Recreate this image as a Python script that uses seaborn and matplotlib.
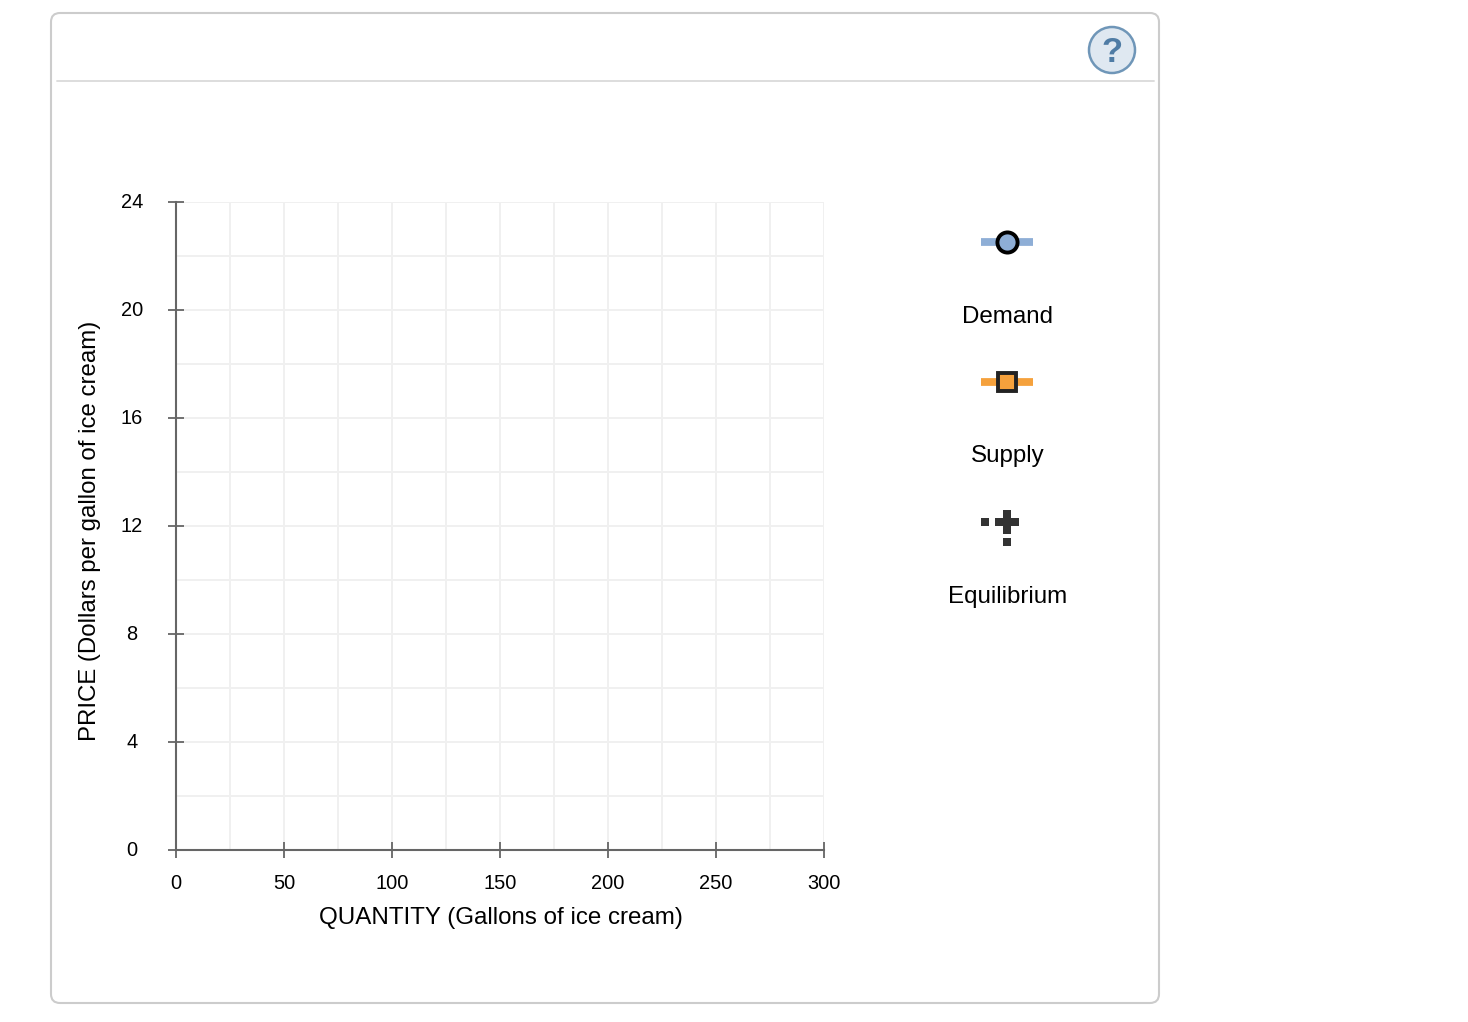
import matplotlib
matplotlib.use("Agg")
import matplotlib.pyplot as plt
from matplotlib.patches import Circle, FancyBboxPatch, Rectangle
import pandas as pd
import seaborn as sns

# Axis setup (the graph itself is empty)
x_ticks = [0, 50, 100, 150, 200, 250, 300]
y_ticks = [0, 4, 8, 12, 16, 20, 24]
x_grid = [25 * i for i in range(13)]
y_grid = [2 * i for i in range(13)]
legend_names = ["Demand", "Supply", "Equilibrium"]
quantity = []
price = []

sns.set_style("white")
plt.rcParams["font.family"] = ["Liberation Sans", "DejaVu Sans"]
plt.rcParams["text.color"] = "black"
plt.rcParams["axes.labelcolor"] = "black"

W, H = 1468, 1022
fig = plt.figure(figsize=(W / 100, H / 100), dpi=100)

# overlay in pixel coordinates for the panel and the palette on the right
bg = fig.add_axes([0, 0, 1, 1], zorder=0)
bg.set_xlim(0, W)
bg.set_ylim(H, 0)
bg.axis("off")

ax = fig.add_axes([176 / W, 1 - 850 / H, 648 / W, 648 / H], zorder=1)
ax.patch.set_alpha(0)

df = pd.DataFrame({"quantity": quantity, "price": price}, dtype=float)
sns.lineplot(data=df, x="quantity", y="price", ax=ax)

ax.set_xlim(0, 300)
ax.set_ylim(0, 24)
ax.set_xticks(x_ticks)
ax.set_yticks(y_ticks)
ax.set_xticks(x_grid, minor=True)
ax.set_yticks(y_grid, minor=True)
ax.grid(which="both", color="#f0f0f0", linewidth=1.4)
ax.set_axisbelow(True)
ax.tick_params(which="minor", length=0, bottom=False, left=False)
ax.tick_params(which="major", direction="inout", length=11.5, width=1.3, color="#666666",
               labelsize=14.4, labelcolor="black", bottom=True, left=True)
ax.tick_params(axis="x", which="major", pad=11.3)
ax.tick_params(axis="y", which="major", pad=26)
for lab in ax.get_yticklabels():
    lab.set_ha("center")
    lab.set_va("center")

sns.despine(ax=ax)
for side in ["left", "bottom"]:
    ax.spines[side].set_color("#666666")
    ax.spines[side].set_linewidth(1.5)

ax.set_xlabel("QUANTITY (Gallons of ice cream)", fontsize=17.35, va="center")
ax.set_ylabel("PRICE (Dollars per gallon of ice cream)", fontsize=17.3, va="center")
ax.xaxis.set_label_coords(0.501, -0.105)
ax.yaxis.set_label_coords(-0.1325, 0.492)

# outer panel and header rule
bg.add_patch(FancyBboxPatch((51, 13), 1108, 990, boxstyle="round,pad=0,rounding_size=9",
                            fc="white", ec="#cccccc", lw=1.5))
bg.plot([57, 1154], [81, 81], color="#dddddd", lw=1.4)

# help icon
bg.add_patch(Circle((1112, 50), 23, fc="#dfe8f1", ec="#6f96b8", lw=1.8))
bg.text(1112, 52, "?", ha="center", va="center", fontsize=25, fontweight="bold", color="#4f7ca5")

# palette glyphs
bg.plot([981, 1033], [242, 242], color="#8eaed6", lw=5.6, solid_capstyle="butt")
bg.plot([1006.6], [241.6], marker="o", ms=14.5, mfc="#8eaed6", mec="black", mew=2.8)
bg.plot([981, 1033], [382, 382], color="#f5a13c", lw=5.6, solid_capstyle="butt")
bg.plot([1007], [382], marker="s", ms=13.5, mfc="#f5a13c", mec="#222222", mew=2.8)

dark = "#333333"
bg.add_patch(Rectangle((981, 518), 8, 8, fc=dark, ec="none"))
bg.add_patch(Rectangle((1003, 538), 8, 8, fc=dark, ec="none"))
bg.add_patch(Rectangle((995, 518), 24, 8, fc=dark, ec="none"))
bg.add_patch(Rectangle((1003, 510), 8, 24, fc=dark, ec="none"))

for name, y in zip(legend_names, [317, 456, 597]):
    bg.text(1007.4, y, name, ha="center", va="center", fontsize=17.35)

fig.savefig("out.png", dpi=100)
